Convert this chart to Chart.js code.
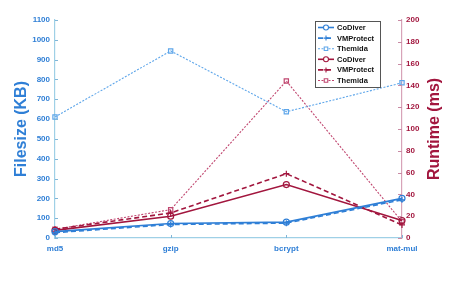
<!DOCTYPE html>
<html>
<head>
<meta charset="utf-8">
<script src="https://cdn.jsdelivr.net/npm/chart.js@4"></script>
<style>
  html, body { margin: 0; padding: 0; background: #fff; }
  #wrap { width: 474px; height: 284px; }
</style>
</head>
<body>
<div id="wrap"><canvas id="chart" width="474" height="284"></canvas></div>
<script>
// categories
const programs = ['md5', 'gzip', 'bcrypt', 'mat-mul'];

// filesize in KB (left axis)
const sizeCoDiver = [32, 73, 80, 200];
const sizeVMProtect = [27, 68, 75, 193];
const sizeThemida = [611, 944, 637, 783];

// runtime in ms (right axis)
const timeCoDiver = [7, 20, 49, 16];
const timeVMProtect = [8, 23, 59, 12];
const timeThemida = [8, 26, 144, 15];

const sizeTicks = [0, 100, 200, 300, 400, 500, 600, 700, 800, 900, 1000, 1100];
const timeTicks = [0, 20, 40, 60, 80, 100, 120, 140, 160, 180, 200];

const BLUE = '#2f7fd6';
const BLUE_LIGHT = '#5ea6ea';
const RED = '#a2163e';
const RED_LIGHT = '#c0466f';

function series(label, data, color, dash, point, axis, width) {
    return {
        label: label,
        data: data,
        yAxisID: axis,
        borderColor: color,
        borderWidth: width,
        borderDash: dash,
        pointStyle: point,
        pointRadius: 3,
        pointBorderWidth: 1.2,
        pointBorderColor: color,
        pointBackgroundColor: 'rgba(255,255,255,0)',
        tension: 0
    };
}

// small inward tick marks like the original figure
const innerTicks = {
    id: 'innerTicks',
    afterDatasetsDraw(chart) {
        const ctx = chart.ctx;
        const a = chart.chartArea;
        ctx.save();
        ctx.lineWidth = 1;
        const y = chart.scales.y, y1 = chart.scales.y1, x = chart.scales.x;
        ctx.strokeStyle = '#7fb6d8';
        y.ticks.forEach((t, i) => {
            const p = Math.round(y.getPixelForTick(i)) + 0.5;
            ctx.beginPath(); ctx.moveTo(a.left, p); ctx.lineTo(a.left + 3, p); ctx.stroke();
        });
        x.ticks.forEach((t, i) => {
            const p = Math.round(x.getPixelForTick(i)) + 0.5;
            ctx.beginPath(); ctx.moveTo(p, a.bottom); ctx.lineTo(p, a.bottom - 3); ctx.stroke();
        });
        ctx.strokeStyle = '#c98aa4';
        y1.ticks.forEach((t, i) => {
            const p = Math.round(y1.getPixelForTick(i)) + 0.5;
            ctx.beginPath(); ctx.moveTo(a.right, p); ctx.lineTo(a.right - 4, p); ctx.stroke();
        });
        ctx.restore();
    }
};

// right axis title reads bottom-to-top in the original
const rightTitle = {
    id: 'rightTitle',
    afterDraw(chart) {
        const ctx = chart.ctx;
        const a = chart.chartArea;
        ctx.save();
        ctx.translate(435, (a.top + a.bottom) / 2);
        ctx.rotate(-Math.PI / 2);
        ctx.font = 'bold 16px "Liberation Sans", Arial, sans-serif';
        ctx.fillStyle = RED;
        ctx.textAlign = 'center';
        ctx.textBaseline = 'middle';
        ctx.fillText('Runtime (ms)', 0, 0);
        ctx.restore();
    }
};

// legend box inside the plot, top right
const boxLegend = {
    id: 'boxLegend',
    afterDraw(chart) {
        const ctx = chart.ctx;
        const bx = 315, by = 21, bw = 65, bh = 66;
        ctx.save();
        ctx.fillStyle = '#fff';
        ctx.fillRect(bx, by, bw, bh);
        ctx.strokeStyle = '#555';
        ctx.lineWidth = 1;
        ctx.strokeRect(bx + 0.5, by + 0.5, bw, bh);
        ctx.font = 'bold 7.5px "Liberation Sans", Arial, sans-serif';
        ctx.textBaseline = 'middle';
        chart.data.datasets.forEach((ds, i) => {
            const cy = by + 6.5 + i * 10.6;
            ctx.strokeStyle = ds.borderColor;
            ctx.lineWidth = ds.borderWidth;
            ctx.setLineDash(ds.borderDash);
            ctx.beginPath(); ctx.moveTo(bx + 3, cy); ctx.lineTo(bx + 19, cy); ctx.stroke();
            ctx.setLineDash([]);
            ctx.fillStyle = '#fff';
            ctx.lineWidth = 1.1;
            Chart.helpers.drawPoint(ctx, {
                pointStyle: ds.pointStyle, radius: 2.5, borderWidth: 1.1, rotation: 0
            }, bx + 11, cy);
            ctx.fillStyle = '#111';
            ctx.fillText(ds.label, bx + 22, cy + 0.5);
        });
        ctx.restore();
    }
};

const tickFont = { family: '"Liberation Sans", Arial, sans-serif', size: 8, weight: 'bold' };
const titleFont = { family: '"Liberation Sans", Arial, sans-serif', size: 16, weight: 'bold' };

new Chart(document.getElementById('chart').getContext('2d'), {
    type: 'line',
    data: {
        labels: programs,
        datasets: [
            series('CoDiver', sizeCoDiver, BLUE, [], 'circle', 'y', 1.6),
            series('VMProtect', sizeVMProtect, BLUE, [5, 3], 'cross', 'y', 1.6),
            series('Themida', sizeThemida, BLUE_LIGHT, [2, 1.5], 'rect', 'y', 1.1),
            series('CoDiver', timeCoDiver, RED, [], 'circle', 'y1', 1.6),
            series('VMProtect', timeVMProtect, RED, [5, 3], 'cross', 'y1', 1.6),
            series('Themida', timeThemida, RED_LIGHT, [2, 1.5], 'rect', 'y1', 1.1)
        ]
    },
    options: {
        responsive: false,
        animation: false,
        layout: { padding: { top: 20, left: 0, right: 0, bottom: 0 } },
        plugins: {
            legend: { display: false },
            tooltip: { enabled: false }
        },
        scales: {
            x: {
                offset: false,
                grid: { display: false, drawTicks: false },
                border: { display: true, color: '#9fd0e6', width: 1.2 },
                ticks: { color: BLUE, font: tickFont, padding: 6, maxRotation: 0 },
                afterFit: s => { s.height = 46; }
            },
            y: {
                position: 'left',
                min: 0,
                max: 1100,
                afterBuildTicks: s => { s.ticks = sizeTicks.map(v => ({ value: v })); },
                grid: { display: false, drawTicks: false },
                border: { display: true, color: '#9fd0e6', width: 1.2 },
                ticks: { color: BLUE, font: tickFont, padding: 5, callback: v => String(v) },
                title: { display: true, text: 'Filesize (KB)', color: BLUE, font: titleFont, padding: { top: 12, bottom: 0 } },
                afterFit: s => { s.width = 55; }
            },
            y1: {
                position: 'right',
                min: 0,
                max: 200,
                afterBuildTicks: s => { s.ticks = timeTicks.map(v => ({ value: v })); },
                grid: { display: false, drawTicks: false },
                border: { display: true, color: '#d7a3b8', width: 1.2 },
                ticks: { color: RED, font: tickFont, padding: 4, callback: v => String(v) },
                afterFit: s => { s.width = 72; }
            }
        }
    },
    plugins: [innerTicks, rightTitle, boxLegend]
});
</script>
</body>
</html>
